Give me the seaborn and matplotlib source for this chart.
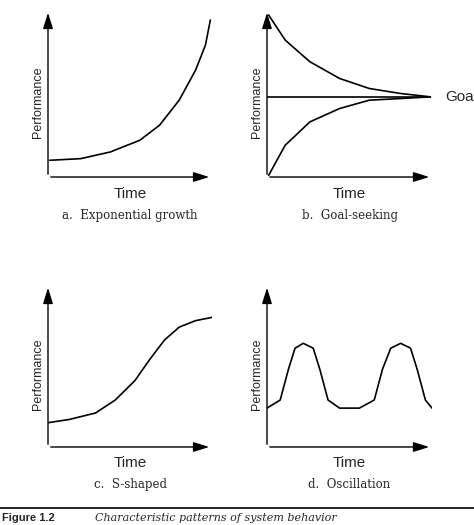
import matplotlib
matplotlib.use("Agg")
import matplotlib.pyplot as plt
import seaborn as sns
import pandas as pd

sns.set_theme(style="white")
plt.rcParams['font.family'] = ['Liberation Sans', 'DejaVu Sans']

# values (time 0-100, performance 0-100)
exp_time = [1, 20, 38, 56, 68, 80, 90, 96, 99]
exp_perf = [10, 11, 15, 22, 31, 46, 64, 79, 94]

goal_time = [1, 11, 26, 44, 62, 81, 99]
goal_upper = [97, 82, 69, 59, 53, 50, 48]
goal_lower = [1, 19, 33, 41, 46, 47, 48]
goal_level = 48

s_time = [0, 13, 29, 41, 53, 62, 71, 80, 90, 100]
s_perf = [15, 17, 21, 29, 41, 54, 66, 74, 78, 80]

osc_time = [0, 8, 13, 17, 22, 28, 32, 37, 44, 56, 65, 70, 75, 81, 87, 91, 96, 100]
osc_perf = [24, 29, 48, 61, 64, 61, 48, 29, 24, 24, 29, 48, 61, 64, 61, 48, 29, 24]

captions = ["a.  Exponential growth", "b.  Goal-seeking", "c.  S-shaped", "d.  Oscillation"]

W, H = 474, 525
fig = plt.figure(figsize=(W / 100, H / 100), dpi=100)


def make_ax(x0, y_axis, y_top, x_tip):
    ax = fig.add_axes([x0 / W, 1 - y_axis / H, (x_tip - x0) / W, (y_axis - y_top) / H])
    ax.set_xlim(0, 100)
    ax.set_ylim(0, 100)
    ax.axis("off")
    kw = dict(arrowprops=dict(arrowstyle="-|>,head_length=0.8,head_width=0.25", color="black", lw=1),
              xycoords="axes fraction", annotation_clip=False)
    ax.annotate("", xy=(1, 0), xytext=(0, 0), **kw)
    ax.annotate("", xy=(0, 1), xytext=(0, 0), **kw)
    ax.text(0.5, -0.1, "Time", transform=ax.transAxes, ha="center", va="center", fontsize=11)
    ax.text(-0.06, 0.45, "Performance", transform=ax.transAxes, ha="center", va="center",
            rotation=90, fontsize=9)
    return ax


def curve(ax, t, p):
    sns.lineplot(data=pd.DataFrame({"t": t, "p": p}), x="t", y="p", ax=ax,
                 color="black", lw=1.2, sort=False)
    ax.axis("off")


axes = [make_ax(48, 177, 10, 212), make_ax(267, 177, 10, 432),
        make_ax(48, 447, 285, 212), make_ax(267, 447, 285, 432)]

curve(axes[0], exp_time, exp_perf)
curve(axes[1], goal_time, goal_upper)
curve(axes[1], goal_time, goal_lower)
axes[1].axhline(goal_level, xmin=0, xmax=0.99, color="black", lw=1.2)
axes[1].text(1.08, goal_level / 100, "Goal", transform=axes[1].transAxes, va="center", fontsize=11)
curve(axes[2], s_time, s_perf)
curve(axes[3], osc_time, osc_perf)

for ax, cap in zip(axes, captions):
    ax.text(0.5, -0.23, cap, transform=ax.transAxes, ha="center", va="center",
            fontsize=8.5, family="DejaVu Serif")

fig.add_artist(plt.Line2D([0, 1], [1 - 508 / H, 1 - 508 / H], color="black", lw=1.2))
fig.text(2 / W, 1 - 518 / H, "Figure 1.2", fontsize=8, weight="bold", va="center")
fig.text(95 / W, 1 - 518 / H, "Characteristic patterns of system behavior", fontsize=8,
         style="italic", family="DejaVu Serif", va="center")

fig.savefig("out.png", dpi=100, facecolor="white")
